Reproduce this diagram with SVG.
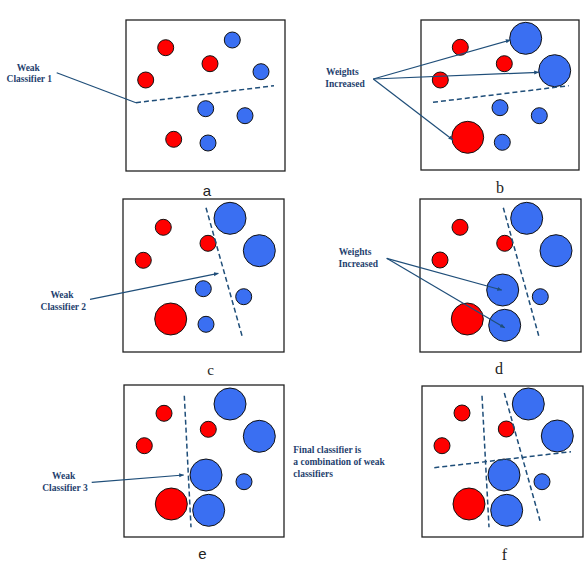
<svg xmlns="http://www.w3.org/2000/svg" width="587" height="587" viewBox="0 0 587 587">
<defs>
<style>
.box{fill:#fff;stroke:#222;stroke-width:1.3}
.r{fill:#ff0000;stroke:#111;stroke-width:1}
.b{fill:#3a6ff2;stroke:#111;stroke-width:1}
.dash{stroke:#1f4e79;stroke-width:1.5;stroke-dasharray:5,3;fill:none}
.lead{stroke:#1f4e79;stroke-width:1.2;fill:none}
.arr{stroke:#1f4e79;stroke-width:1.2;fill:none;marker-end:url(#ah)}
.t{font-family:"Liberation Serif","Times New Roman",serif;font-weight:bold;font-size:9.5px;fill:#1f3f6e}
.lbs{font-family:"Liberation Sans",Arial,sans-serif;font-size:15px;fill:#222;text-anchor:middle}
.lbr{font-family:"Liberation Serif","Times New Roman",serif;font-size:16px;fill:#222;text-anchor:middle}
</style>
<marker id="ah" viewBox="0 0 10 10" refX="9" refY="5" markerWidth="5" markerHeight="5" orient="auto" markerUnits="userSpaceOnUse">
<path d="M0,1 L10,5 L0,9 z" fill="#1f4e79"/>
</marker>
</defs>

<g id="panel-a">
<rect class="box" x="126" y="20" width="159" height="151"/>
<circle class="r" cx="165.7" cy="47.7" r="8"/>
<circle class="b" cx="232.3" cy="40" r="8"/>
<circle class="r" cx="210" cy="63.7" r="8"/>
<circle class="b" cx="261" cy="71.7" r="8"/>
<circle class="r" cx="145.7" cy="80" r="8"/>
<circle class="b" cx="205.7" cy="108.7" r="8"/>
<circle class="b" cx="245" cy="115.7" r="8"/>
<circle class="r" cx="173.7" cy="139.3" r="8"/>
<circle class="b" cx="208" cy="143" r="8"/>
<text class="lbs" x="207" y="196">a</text>
</g>

<g id="panel-b">
<rect class="box" x="421" y="20" width="158" height="150"/>
<circle class="b" cx="525.7" cy="38.3" r="16"/>
<circle class="r" cx="460.3" cy="47.3" r="8"/>
<circle class="r" cx="504.3" cy="63.7" r="8"/>
<circle class="b" cx="554.7" cy="70.7" r="16"/>
<circle class="r" cx="440.3" cy="80" r="8"/>
<circle class="b" cx="500" cy="107.7" r="8"/>
<circle class="b" cx="539.3" cy="115.7" r="8"/>
<circle class="r" cx="467.7" cy="137.3" r="16"/>
<circle class="b" cx="502.3" cy="142.3" r="8"/>
<text class="lbr" x="500" y="193">b</text>
</g>

<g id="panel-c">
<rect class="box" x="123" y="199" width="161" height="153"/>
<circle class="b" cx="230" cy="218.3" r="16"/>
<circle class="r" cx="163.3" cy="227.3" r="8"/>
<circle class="r" cx="208" cy="243.3" r="8"/>
<circle class="b" cx="259.3" cy="250.7" r="16"/>
<circle class="r" cx="143.3" cy="260.3" r="8"/>
<circle class="b" cx="203.3" cy="288.7" r="8"/>
<circle class="b" cx="243.7" cy="296.7" r="8"/>
<circle class="r" cx="170.7" cy="319" r="16"/>
<circle class="b" cx="206" cy="324.3" r="8"/>
<text class="lbr" x="210.7" y="375" style="font-size:15px">c</text>
</g>

<g id="panel-d">
<rect class="box" x="420" y="199" width="161" height="153"/>
<circle class="b" cx="526.7" cy="218.3" r="16"/>
<circle class="r" cx="460" cy="227.3" r="8"/>
<circle class="r" cx="504.7" cy="243.3" r="8"/>
<circle class="b" cx="556" cy="250.7" r="16"/>
<circle class="r" cx="440" cy="260" r="8"/>
<circle class="b" cx="502.7" cy="290" r="16"/>
<circle class="b" cx="540.3" cy="296.7" r="8"/>
<circle class="r" cx="467.3" cy="319" r="16"/>
<circle class="b" cx="504.7" cy="325.3" r="16"/>
<text class="lbr" x="499" y="374">d</text>
</g>

<g id="panel-e">
<rect class="box" x="124" y="385" width="160" height="152"/>
<circle class="b" cx="230" cy="404" r="16"/>
<circle class="r" cx="164" cy="413.3" r="8"/>
<circle class="r" cx="208.3" cy="429.3" r="8"/>
<circle class="b" cx="259.3" cy="436.3" r="16"/>
<circle class="r" cx="144.3" cy="445.7" r="8"/>
<circle class="b" cx="206" cy="475" r="16"/>
<circle class="b" cx="244" cy="481.7" r="8"/>
<circle class="r" cx="171.3" cy="504" r="16"/>
<circle class="b" cx="208.7" cy="510.3" r="16"/>
<text class="lbs" x="202.3" y="559">e</text>
</g>

<g id="panel-f">
<rect class="box" x="422" y="386" width="161" height="151"/>
<circle class="b" cx="528.3" cy="404" r="16"/>
<circle class="r" cx="462" cy="413" r="8"/>
<circle class="r" cx="506.3" cy="429" r="8"/>
<circle class="b" cx="557.3" cy="436" r="16"/>
<circle class="r" cx="442" cy="445.7" r="8"/>
<circle class="b" cx="504" cy="475" r="16"/>
<circle class="b" cx="542" cy="481.7" r="8"/>
<circle class="r" cx="469" cy="504" r="16"/>
<circle class="b" cx="506.7" cy="510.3" r="16"/>
<text class="lbr" x="504.3" y="560">f</text>
</g>

<g id="label-weak1">
<text class="t" x="28.3" y="70.8" text-anchor="middle">Weak</text>
<text class="t" x="29.3" y="82" text-anchor="middle">Classifier 1</text>
</g>
<g id="label-weights-b">
<text class="t" x="342.3" y="75" text-anchor="middle">Weights</text>
<text class="t" x="345" y="86.7" text-anchor="middle">Increased</text>
</g>
<g id="label-weak2">
<text class="t" x="62" y="297.8" text-anchor="middle">Weak</text>
<text class="t" x="63.3" y="309.8" text-anchor="middle">Classifier 2</text>
</g>
<g id="label-weights-d">
<text class="t" x="355" y="255" text-anchor="middle">Weights</text>
<text class="t" x="358.3" y="266.5" text-anchor="middle">Increased</text>
</g>
<g id="label-weak3">
<text class="t" x="63.7" y="479" text-anchor="middle">Weak</text>
<text class="t" x="65" y="491" text-anchor="middle">Classifier 3</text>
</g>
<g id="label-final">
<text class="t" x="293.3" y="453.3">Final classifier is</text>
<text class="t" x="293.3" y="465.3">a combination of weak</text>
<text class="t" x="293.3" y="477">classifiers</text>
</g>

<g id="connectors">
<line class="dash" x1="136" y1="102.7" x2="274" y2="85.7"/>
<line class="lead" x1="56.7" y1="72.7" x2="136" y2="102.7"/>

<line class="dash" x1="433" y1="102.3" x2="568.7" y2="85.7"/>
<line class="arr" x1="373.3" y1="79" x2="510.3" y2="40"/>
<line class="arr" x1="373.3" y1="79" x2="538.7" y2="72.3"/>
<line class="arr" x1="373.3" y1="79" x2="453" y2="140"/>

<line class="dash" x1="206" y1="207.7" x2="242" y2="335.7"/>
<line class="arr" x1="90" y1="299.3" x2="218.3" y2="273.3"/>

<line class="dash" x1="503.3" y1="207.7" x2="538.7" y2="335.7"/>
<line class="arr" x1="386.7" y1="258.3" x2="501.7" y2="290"/>
<line class="arr" x1="386.7" y1="258.3" x2="504.7" y2="327.7"/>

<line class="dash" x1="184.3" y1="395.7" x2="191" y2="527.3"/>
<line class="arr" x1="91.7" y1="482.3" x2="183.7" y2="475"/>

<line class="dash" x1="482" y1="395.7" x2="489" y2="527.3"/>
<line class="dash" x1="504.3" y1="393" x2="540" y2="520.7"/>
<line class="dash" x1="434.3" y1="467.7" x2="571" y2="451.7"/>
</g>
</svg>
